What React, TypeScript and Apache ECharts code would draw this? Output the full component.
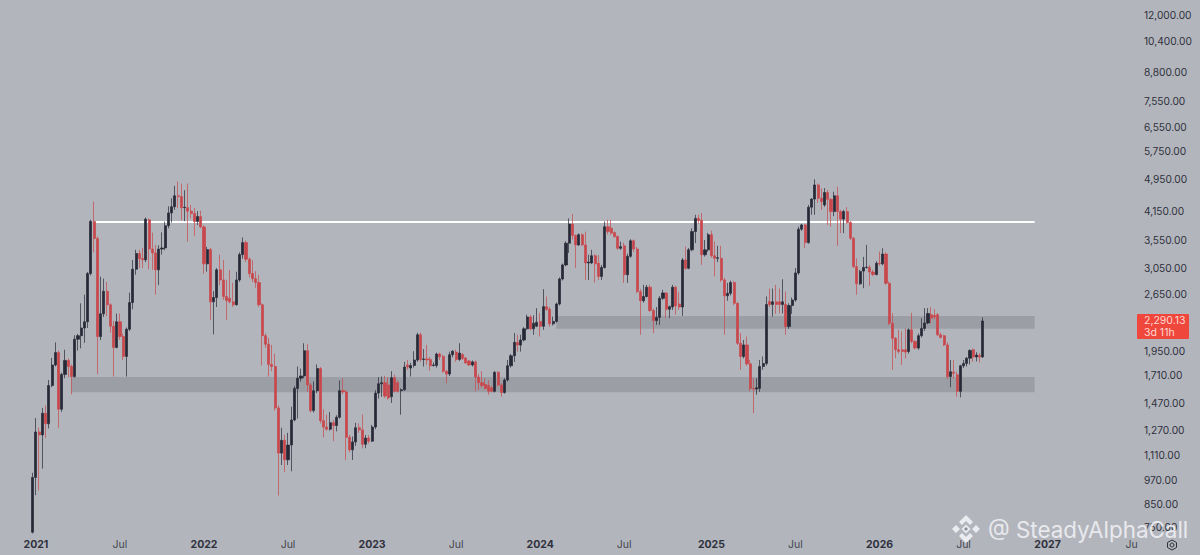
import React, { useEffect, useRef } from "react";
import * as echarts from "echarts";

// [open, close, low, high], one row per week
const candles2021 = [
  [730,982,725,1007],[982,1256,892,1354],[1256,1236,915,1285],[1236,1390,1030,1430],[1390,1313,1215,1450],[1313,1615,1280,1664],
  [1615,1805,1600,1875],[1805,1930,1790,2040],[1930,1420,1285,1950],[1420,1715,1400,1730],[1715,1850,1680,1960],[1850,1790,1690,1870],
  [1790,1695,1540,1810],[1695,2075,1685,2120],[2075,2115,1950,2135],[2115,2205,1975,2520],[2205,2280,2035,2640],[2280,2960,2205,2985],
  [2960,3925,2930,3960],[3925,3580,3320,4370],[3580,2105,1715,3620],[2105,2380,2066,2910],[2380,2690,2340,2880],[2690,2500,2350,2830],
  [2500,2225,2150,2520],[2225,1985,1695,2290],[1985,2280,1975,2385],[2280,2105,2070,2385],[2105,1890,1854,2140],[1890,2190,1695,2210],
  [2190,2530,2170,2670],[2530,3030,2440,3186],[3030,3300,2942,3366],[3300,3210,3050,3366],[3210,3190,3050,3400],[3190,3975,3150,4010],
  [3960,3380,3030,3990],[3380,3310,3020,3695],[3310,3020,2640,3457],[3020,3380,2780,3450],[3380,3400,3280,3700],[3400,3835,3360,3920],
  [3835,4110,3780,4260],[4110,4250,3900,4450],[4250,4510,4179,4760],[4510,4490,4220,4870],[4490,4230,3950,4820],[4230,4240,3930,4650],
  [4230,4150,3520,4820],[4150,4100,3990,4290],[4100,3925,3630,4220],[3925,4030,3850,4150],[4030,3810,3780,4160],
];
const candles2022 = [
  [3810,3120,2960,3850],[3120,3370,2990,3420],[3370,2540,2302,3400],[2540,2600,2130,2690],[2600,3020,2470,3050],[3020,2860,2780,3278],
  [2860,2615,2566,3186],[2615,2560,2302,2859],[2590,2540,2520,3020],[2540,2500,2470,2815],[2500,2860,2490,2990],[2860,3280,2830,3320],
  [3280,3500,3210,3600],[3500,3200,3150,3540],[3200,2960,2900,3230],[2960,2880,2830,3186],[2880,2820,2740,3000],[2820,2500,2470,2940],
  [2500,2115,1800,2520],[2115,2020,1980,2140],[2020,1810,1695,2090],[1810,1790,1745,2012],[1790,1430,1410,1920],[1430,1120,890,1450],
  [1120,1200,1050,1285],[1200,1080,1010,1237],[1080,1170,1050,1250],[1170,1340,1015,1440],[1340,1590,1330,1610],[1590,1680,1350,1790],
  [1680,1700,1650,1770],[1700,1950,1680,2030],[1950,1620,1560,2020],[1620,1410,1395,1640],[1410,1570,1395,1650],[1570,1770,1550,1810],
  [1770,1335,1315,1785],[1335,1290,1220,1420],[1290,1275,1265,1380],[1275,1320,1265,1400],[1320,1300,1195,1340],[1300,1360,1260,1375],
  [1360,1570,1350,1660],[1570,1560,1540,1680],[1560,1220,1079,1575],[1220,1140,1125,1237],[1140,1190,1079,1225],[1190,1285,1165,1320],
  [1285,1270,1250,1315],[1270,1175,1150,1380],[1175,1215,1150,1235],[1215,1195,1180,1235],
];
const candles2023 = [
  [1195,1290,1190,1305],[1290,1550,1275,1575],[1550,1630,1505,1690],[1630,1640,1520,1695],[1640,1525,1510,1700],[1620,1510,1495,1690],
  [1520,1685,1470,1745],[1685,1565,1555,1712],[1640,1565,1555,1660],[1570,1578,1379,1590],[1578,1785,1570,1835],[1805,1785,1758,1854],
  [1775,1800,1695,1825],[1800,1854,1780,1945],[1854,2126,1835,2150],[2126,1860,1835,2150],[1860,1865,1790,1967],[1865,1855,1806,2012],
  [1860,1797,1750,1885],[1800,1805,1790,1830],[1800,1915,1780,1930],[1915,1885,1854,1930],[1890,1745,1730,1908],[1745,1718,1635,1755],
  [1718,1908,1700,1940],[1908,1945,1880,1955],[1935,1860,1838,1960],[1860,1925,1845,2030],[1910,1870,1854,1925],[1875,1825,1815,1885],
  [1845,1805,1795,1855],[1805,1835,1790,1850],[1835,1690,1565,1850],[1690,1640,1575,1720],[1640,1615,1595,1745],[1625,1590,1580,1680],
  [1615,1565,1536,1660],[1595,1565,1555,1610],[1565,1735,1555,1745],[1735,1620,1605,1745],[1620,1555,1520,1635],[1555,1664,1545,1680],
  [1664,1797,1650,1854],[1797,1897,1780,1915],[1897,2040,1835,2145],[2040,2010,1940,2126],[2010,2066,1940,2126],[2066,2195,2050,2215],
  [2195,2340,2185,2370],[2340,2195,2180,2365],[2195,2262,2126,2360],[2225,2275,2215,2455],
];
const candles2024 = [
  [2285,2225,2105,2390],[2225,2475,2183,2720],[2475,2440,2420,2615],[2440,2255,2220,2470],[2255,2285,2235,2345],[2285,2510,2270,2530],
  [2510,2875,2490,2900],[2875,3102,2850,3125],[3102,3490,3080,3525],[3490,3870,3310,3990],[3870,3640,3560,4090],[3640,3457,3050,3660],
  [3457,3653,3440,3680],[3653,3457,3440,3680],[3457,3135,2859,3715],[3135,3150,2859,3278],[3135,3260,3115,3366],[3260,3120,2820,3290],
  [3130,2915,2860,3270],[2915,3060,2860,3102],[3060,3815,3040,3925],[3815,3715,3660,3960],[3785,3685,3650,3960],[3695,3620,3590,3720],
  [3620,3395,3366,3640],[3395,3425,3366,3520],[3440,2942,2815,3500],[2942,3250,2815,3295],[3250,3535,3225,3565],[3535,3380,3330,3560],
  [3380,2685,2660,3420],[2685,2555,2126,2725],[2555,2615,2530,2784],[2615,2750,2600,2784],[2750,2425,2405,2785],[2425,2295,2145,2450],
  [2295,2335,2242,2470],[2335,2590,2242,2620],[2590,2665,2565,2711],[2665,2440,2325,2680],[2440,2475,2325,2490],[2470,2750,2430,2785],
  [2750,2485,2370,2770],[2510,2470,2433,2680],[2470,3186,2355,3220],[3186,3045,3020,3425],[3045,3366,3030,3400],[3366,3715,3340,3780],
  [3715,3990,3490,4069],[3990,3945,3880,4069],[3950,3278,3102,4110],[3278,3366,3245,3550],
];
const candles2025 = [
  [3366,3653,3330,3690],[3653,3260,3225,3735],[3260,3215,2915,3520],[3215,3225,3150,3440],[3215,2860,2830,3440],[2860,2625,2126,2890],
  [2625,2660,2555,2815],[2660,2820,2630,2850],[2820,2520,2495,2845],[2520,2030,2012,2535],[2030,1890,1758,2145],[1890,2012,1870,2066],
  [2012,1816,1795,2105],[1816,1590,1565,1854],[1590,1585,1390,1680],[1585,1595,1536,1680],[1590,1790,1560,1854],[1790,1820,1758,1890],
  [1820,2505,1800,2615],[2545,2505,2470,2730],[2505,2540,2345,2730],[2540,2505,2380,2784],[2540,2505,2385,2730],[2505,2540,2385,2870],
  [2505,2222,2126,2685],[2222,2490,2195,2520],[2490,2566,2380,2600],[2566,2970,2540,3050],[2970,3765,2940,3815],[3765,3852,3730,3870],
  [3852,3500,3400,3870],[3500,4240,3480,4292],[4240,4430,4069,4450],[4430,4782,4069,4930],[4782,4450,4340,4820],[4450,4370,4179,4700],
  [4292,4590,4250,4700],[4590,4425,3852,4660],[4425,4140,3815,4450],[4140,4510,4040,4610],[4510,4140,3440,4740],[4140,3975,3685,4180],
  [3975,4140,3685,4179],[4140,3905,3880,4240],[3905,3585,3550,3930],[3585,3075,3050,3610],[3075,2800,2640,3215],[2800,2995,2785,3020],
];
const candles2026 = [
  [3000,3060,2735,3240],[3060,3065,3040,3457],[3060,2985,2770,3102],[2985,2945,2920,3020],[2945,3130,2930,3165],[3130,3120,3090,3335],
  [3120,3290,3095,3395],[3290,2810,2785,3320],[2810,2262,2240,2835],[2262,2085,1758,2390],[2085,1960,1872,2100],[1960,1942,1920,2183],
  [1960,1942,1806,2165],[1960,1935,1870,2200],[1942,2183,1920,2200],[2183,2050,2030,2395],[2050,1978,1965,2065],[1978,2115,1960,2140],
  [2115,2200,2095,2325],[2200,2265,2170,2455],[2265,2385,2250,2455],[2370,2325,2262,2470],[2360,2340,2310,2440],[2370,2126,2110,2390],
  [2126,2095,2085,2150],[2115,2012,2000,2125],[2012,1695,1670,2040],[1695,1740,1600,1854],[1735,1725,1680,1854],[1712,1565,1520,1740],
  [1565,1797,1515,1806],[1797,1820,1775,1854],[1820,1872,1790,1885],[1872,1952,1810,1965],[1960,1885,1835,1975],[1885,1905,1840,1935],
  [1900,1885,1830,1925],[1885,2290,1875,2335],
];
const candles = [...candles2021, ...candles2022, ...candles2023, ...candles2024, ...candles2025, ...candles2026];

const priceTicks = [12000, 10400, 8800, 7550, 6550, 5750, 4950, 4150, 3550, 3050, 2650, 1950, 1710, 1470, 1270, 1110, 970, 850, 750];
const timeLabels: [string, string][] = [
  ["2021-01-04", "2021"], ["2021-07-05", "Jul"], ["2022-01-03", "2022"], ["2022-07-04", "Jul"], ["2023-01-02", "2023"],
  ["2023-07-03", "Jul"], ["2024-01-01", "2024"], ["2024-07-01", "Jul"], ["2025-01-06", "2025"], ["2025-07-07", "Jul"],
  ["2026-01-05", "2026"], ["2026-07-06", "Jul"], ["2027-01-04", "2027"], ["2027-07-05", "Ju"],
];
const weekCount = 344;
const weeks: string[] = [];
for (let i = 0; i < weekCount; i++) {
  weeks.push(new Date(Date.UTC(2020, 11, 28 + i * 7)).toISOString().slice(0, 10));
}
const labelOfWeek = new Map(timeLabels);

const resistanceLevel = 3923;
const upperZone = [2197, 2352];
const lowerZone = [1558, 1690];
const lastPrice = "2,290.13";
const countdown = "3d 11h";

const BG = "#b3b5bd";
const UP = "#262a36";
const DOWN = "#c8474c";
const INK = "#2e313c";
const FONT = "Inter, 'Noto Sans', sans-serif";

export default function App() {
  const ref = useRef<HTMLDivElement>(null);
  useEffect(() => {
    document.body.style.margin = "0";
    document.body.style.background = BG;
    const chart = echarts.init(ref.current!, null, { renderer: "svg" });
    const mark = { fill: "rgba(240,241,244,0.92)" };
    chart.setOption({
      animation: false,
      backgroundColor: BG,
      grid: { left: 31.1, top: 0, width: 1111.8, height: 535 },
      xAxis: {
        type: "category",
        data: weeks,
        boundaryGap: true,
        axisLine: { show: false },
        axisTick: { show: false },
        splitLine: { show: false },
        axisLabel: {
          margin: 4,
          hideOverlap: false,
          interval: (_i: number, v: string) => labelOfWeek.has(v),
          formatter: (v: string) => {
            const t = labelOfWeek.get(v) ?? "";
            return /^\d/.test(t) ? `{y|${t}}` : `{m|${t}}`;
          },
          rich: {
            y: { fontFamily: FONT, fontSize: 10.5, fontWeight: 700, color: INK },
            m: { fontFamily: FONT, fontSize: 10.5, color: "#44474f" },
          },
        },
      },
      yAxis: {
        type: "log",
        position: "right",
        min: 719,
        max: 13015,
        axisLine: { show: false },
        axisTick: { show: false },
        splitLine: { show: false },
        minorTick: { show: false },
        axisLabel: {
          customValues: priceTicks,
          margin: 1,
          fontFamily: FONT,
          fontSize: 10.2,
          color: INK,
          formatter: (v: number) =>
            Math.round(v).toLocaleString("en-US", { minimumFractionDigits: 2, maximumFractionDigits: 2 }),
        },
      },
      series: [
        {
          type: "candlestick",
          data: candles,
          barWidth: 2.6,
          itemStyle: { color: UP, color0: DOWN, borderColor: UP, borderColor0: DOWN, borderWidth: 0.7 },
          markArea: {
            silent: true,
            z: 1,
            itemStyle: { color: "#9c9ea6" },
            data: [
              [{ xAxis: 162, yAxis: upperZone[1] }, { xAxis: 310, yAxis: upperZone[0] }],
              [{ xAxis: 12, yAxis: lowerZone[1] }, { xAxis: 310, yAxis: lowerZone[0] }],
            ],
          },
          markLine: {
            silent: true,
            z: 1,
            symbol: "none",
            label: { show: false },
            lineStyle: { color: "#ffffff", width: 2, type: "solid" },
            data: [[{ xAxis: 19, yAxis: resistanceLevel }, { xAxis: 310, yAxis: resistanceLevel }]],
          },
        },
      ],
      graphic: [
        { type: "rect", z: 20, shape: { x: 1137, y: 314, width: 52, height: 25, r: 1 }, style: { fill: "#f0473c" } },
        { type: "text", z: 21, x: 1144, y: 315, style: { text: lastPrice, fill: "#ffd6d2", font: `10.5px ${FONT}` } },
        { type: "text", z: 21, x: 1144, y: 327, style: { text: countdown, fill: "#ffd6d2", font: `10.5px ${FONT}` } },
        { type: "polygon", z: 30, shape: { points: [[966, 515], [973, 522], [970, 525], [966, 521], [962, 525], [959, 522]] }, style: mark },
        { type: "polygon", z: 30, shape: { points: [[966, 543], [973, 536], [970, 533], [966, 537], [962, 533], [959, 536]] }, style: mark },
        { type: "polygon", z: 30, shape: { points: [[966, 524.5], [970.5, 529], [966, 533.5], [961.5, 529]] }, style: mark },
        { type: "polygon", z: 31, shape: { points: [[966, 527], [968, 529], [966, 531], [964, 529]] }, style: { fill: "#8f919a" } },
        { type: "polygon", z: 30, shape: { points: [[956, 525], [960, 529], [956, 533], [952, 529]] }, style: mark },
        { type: "polygon", z: 30, shape: { points: [[976, 525], [980, 529], [976, 533], [972, 529]] }, style: mark },
        {
          type: "text", z: 30, x: 988, y: 519,
          style: {
            text: "@ SteadyAlphaCall", fill: "rgba(240,241,244,0.9)", font: `22.4px ${FONT}`, lineHeight: 20,
            shadowBlur: 2, shadowColor: "rgba(60,60,70,0.5)", shadowOffsetY: 1,
          },
        },
        { type: "polygon", z: 25, shape: { points: [[1172, 540], [1176.5, 542.5], [1176.5, 547.5], [1172, 550], [1167.5, 547.5], [1167.5, 542.5]] }, style: { fill: "none", stroke: INK, lineWidth: 1 } },
        { type: "circle", z: 25, shape: { cx: 1172, cy: 545, r: 2 }, style: { fill: "none", stroke: INK, lineWidth: 1 } },
      ],
    });
    return () => chart.dispose();
  }, []);
  return <div ref={ref} style={{ width: 1200, height: 555 }} />;
}
